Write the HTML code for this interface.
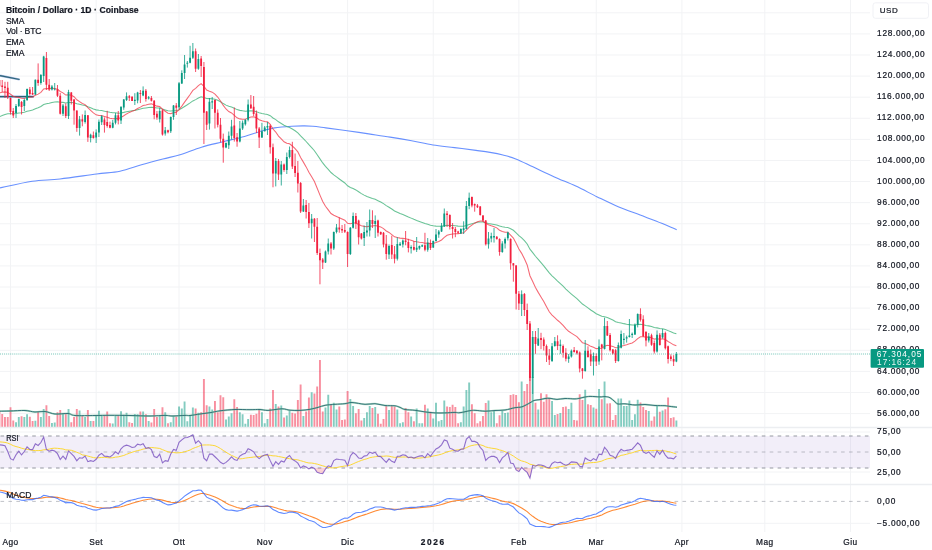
<!DOCTYPE html>
<html><head><meta charset="utf-8"><title>BTC chart</title>
<style>html,body{margin:0;padding:0;background:#fff;width:932px;height:550px;overflow:hidden}</style>
</head><body>
<svg width="932" height="550" viewBox="0 0 932 550" style="display:block"><path d="M0 12.81H870 M0 33.9H870 M0 54.99H870 M0 76.09H870 M0 97.18H870 M0 118.28H870 M0 139.37H870 M0 160.46H870 M0 181.56H870 M0 202.65H870 M0 223.75H870 M0 244.84H870 M0 265.93H870 M0 287.03H870 M0 308.12H870 M0 329.22H870 M0 350.31H870 M0 371.4H870 M0 392.5H870 M0 413.59H870 M10.5 0V532 M96.15 0V532 M179.04 0V532 M264.7 0V532 M347.59 0V532 M433.24 0V532 M518.89 0V532 M596.26 0V532 M681.91 0V532 M764.8 0V532 M850.45 0V532" stroke="#f2f3f5" stroke-width="1" fill="none"/><path d="M0 432H870M0 472H870M0 523.3H870" stroke="#f2f3f5" stroke-width="1" fill="none"/><rect x="0" y="436" width="870" height="32" fill="#7e57c2" fill-opacity="0.1"/><path d="M0 436H870M0 468H870" stroke="#9598a1" stroke-width="1" stroke-dasharray="3.6 4.33" stroke-dashoffset="7.43" fill="none"/><path d="M0 452H870" stroke="#9598a1" stroke-width="1" stroke-dasharray="3.6 4.33" stroke-dashoffset="7.43" fill="none" stroke-opacity="0.6"/><path d="M0 501.4H870" stroke="#9598a1" stroke-width="1" stroke-dasharray="3.6 4.33" stroke-dashoffset="7.43" fill="none" stroke-opacity="0.6"/><path d="M15.08 422.2h1.9V427.5h-1.9zM17.84 417.1h1.9V427.5h-1.9zM23.36 417.1h1.9V427.5h-1.9zM26.13 414.3h1.9V427.5h-1.9zM34.42 420.8h1.9V427.5h-1.9zM39.94 417.1h1.9V427.5h-1.9zM42.71 408.9h1.9V427.5h-1.9zM50.99 423h1.9V427.5h-1.9zM53.76 422.6h1.9V427.5h-1.9zM62.05 414h1.9V427.5h-1.9zM67.57 408.9h1.9V427.5h-1.9zM78.62 410.4h1.9V427.5h-1.9zM84.15 417.1h1.9V427.5h-1.9zM89.68 421h1.9V427.5h-1.9zM95.2 415.5h1.9V427.5h-1.9zM97.97 410.8h1.9V427.5h-1.9zM100.73 415.5h1.9V427.5h-1.9zM111.78 423.5h1.9V427.5h-1.9zM114.54 415.9h1.9V427.5h-1.9zM120.07 411.2h1.9V427.5h-1.9zM122.83 414.7h1.9V427.5h-1.9zM125.6 412.8h1.9V427.5h-1.9zM133.88 414h1.9V427.5h-1.9zM136.65 414.3h1.9V427.5h-1.9zM142.17 411.6h1.9V427.5h-1.9zM147.7 421h1.9V427.5h-1.9zM158.75 415.9h1.9V427.5h-1.9zM164.28 412.3h1.9V427.5h-1.9zM169.8 422.2h1.9V427.5h-1.9zM172.57 415.9h1.9V427.5h-1.9zM178.09 406.4h1.9V427.5h-1.9zM180.86 408.5h1.9V427.5h-1.9zM183.62 401.6h1.9V427.5h-1.9zM186.38 421.2h1.9V427.5h-1.9zM189.15 415.9h1.9V427.5h-1.9zM191.91 407.4h1.9V427.5h-1.9zM197.43 412.7h1.9V427.5h-1.9zM208.49 406.4h1.9V427.5h-1.9zM211.25 409.6h1.9V427.5h-1.9zM225.06 419.6h1.9V427.5h-1.9zM227.83 416.4h1.9V427.5h-1.9zM230.59 413.2h1.9V427.5h-1.9zM238.88 412.2h1.9V427.5h-1.9zM241.64 414.3h1.9V427.5h-1.9zM244.41 423.8h1.9V427.5h-1.9zM247.17 419h1.9V427.5h-1.9zM260.98 412.2h1.9V427.5h-1.9zM263.75 423.3h1.9V427.5h-1.9zM266.51 419h1.9V427.5h-1.9zM274.8 404h1.9V427.5h-1.9zM280.32 405.4h1.9V427.5h-1.9zM285.85 415.4h1.9V427.5h-1.9zM288.61 410.7h1.9V427.5h-1.9zM302.43 416.1h1.9V427.5h-1.9zM310.72 392.2h1.9V427.5h-1.9zM324.53 407.4h1.9V427.5h-1.9zM327.3 394.8h1.9V427.5h-1.9zM332.82 402.7h1.9V427.5h-1.9zM335.58 409.6h1.9V427.5h-1.9zM349.4 399h1.9V427.5h-1.9zM352.16 405.9h1.9V427.5h-1.9zM363.21 418h1.9V427.5h-1.9zM365.98 412.2h1.9V427.5h-1.9zM368.74 405.9h1.9V427.5h-1.9zM374.27 406.9h1.9V427.5h-1.9zM388.08 410.1h1.9V427.5h-1.9zM396.37 409.6h1.9V427.5h-1.9zM399.13 423.3h1.9V427.5h-1.9zM401.9 422.2h1.9V427.5h-1.9zM410.19 416.4h1.9V427.5h-1.9zM415.71 408.5h1.9V427.5h-1.9zM418.47 423.3h1.9V427.5h-1.9zM421.24 423.3h1.9V427.5h-1.9zM426.76 408.5h1.9V427.5h-1.9zM432.29 418.5h1.9V427.5h-1.9zM435.05 402.7h1.9V427.5h-1.9zM437.81 421.2h1.9V427.5h-1.9zM440.58 420.1h1.9V427.5h-1.9zM443.34 400.6h1.9V427.5h-1.9zM459.92 422.2h1.9V427.5h-1.9zM462.68 406.4h1.9V427.5h-1.9zM465.44 390h1.9V427.5h-1.9zM468.21 382.4h1.9V427.5h-1.9zM487.55 400.4h1.9V427.5h-1.9zM490.31 412.2h1.9V427.5h-1.9zM493.07 411.1h1.9V427.5h-1.9zM501.36 411h1.9V427.5h-1.9zM504.13 413.1h1.9V427.5h-1.9zM506.89 412.4h1.9V427.5h-1.9zM520.7 381.5h1.9V427.5h-1.9zM531.76 377h1.9V427.5h-1.9zM537.28 409.6h1.9V427.5h-1.9zM551.1 401.1h1.9V427.5h-1.9zM553.86 415.1h1.9V427.5h-1.9zM559.39 413h1.9V427.5h-1.9zM567.68 409h1.9V427.5h-1.9zM570.44 402.7h1.9V427.5h-1.9zM584.25 389.8h1.9V427.5h-1.9zM592.54 407.4h1.9V427.5h-1.9zM598.07 389h1.9V427.5h-1.9zM603.59 381.6h1.9V427.5h-1.9zM617.41 398.5h1.9V427.5h-1.9zM620.17 398.5h1.9V427.5h-1.9zM622.94 406.1h1.9V427.5h-1.9zM625.7 406.1h1.9V427.5h-1.9zM628.46 400.6h1.9V427.5h-1.9zM631.22 420.1h1.9V427.5h-1.9zM633.99 414.3h1.9V427.5h-1.9zM636.75 399.7h1.9V427.5h-1.9zM647.8 411.1h1.9V427.5h-1.9zM656.09 405.4h1.9V427.5h-1.9zM661.62 410.6h1.9V427.5h-1.9zM675.43 420.4h1.9V427.5h-1.9z" fill="#089981" fill-opacity="0.5"/><path d="M-1.5 412h1.9V427.5h-1.9zM1.26 414h1.9V427.5h-1.9zM4.02 417.1h1.9V427.5h-1.9zM6.79 417.1h1.9V427.5h-1.9zM9.55 407.3h1.9V427.5h-1.9zM12.31 420.6h1.9V427.5h-1.9zM20.6 416.3h1.9V427.5h-1.9zM28.89 416.7h1.9V427.5h-1.9zM31.65 421h1.9V427.5h-1.9zM37.18 412h1.9V427.5h-1.9zM45.47 405.3h1.9V427.5h-1.9zM48.23 415.9h1.9V427.5h-1.9zM56.52 412.2h1.9V427.5h-1.9zM59.28 410h1.9V427.5h-1.9zM64.81 414h1.9V427.5h-1.9zM70.34 422.2h1.9V427.5h-1.9zM73.1 417.1h1.9V427.5h-1.9zM75.86 408.9h1.9V427.5h-1.9zM81.39 415.9h1.9V427.5h-1.9zM86.91 410h1.9V427.5h-1.9zM92.44 421h1.9V427.5h-1.9zM103.49 415.5h1.9V427.5h-1.9zM106.25 411.6h1.9V427.5h-1.9zM109.02 423.3h1.9V427.5h-1.9zM117.31 415.9h1.9V427.5h-1.9zM128.36 422.2h1.9V427.5h-1.9zM131.12 423h1.9V427.5h-1.9zM139.41 411.6h1.9V427.5h-1.9zM144.94 414.3h1.9V427.5h-1.9zM150.46 422.6h1.9V427.5h-1.9zM153.23 408.9h1.9V427.5h-1.9zM155.99 417.1h1.9V427.5h-1.9zM161.52 407.3h1.9V427.5h-1.9zM167.04 423.2h1.9V427.5h-1.9zM175.33 416.4h1.9V427.5h-1.9zM194.67 408.5h1.9V427.5h-1.9zM200.2 412.2h1.9V427.5h-1.9zM202.96 379h1.9V427.5h-1.9zM205.72 405.3h1.9V427.5h-1.9zM214.01 401.1h1.9V427.5h-1.9zM216.78 412.2h1.9V427.5h-1.9zM219.54 395.3h1.9V427.5h-1.9zM222.3 397.2h1.9V427.5h-1.9zM233.35 399.3h1.9V427.5h-1.9zM236.12 406.9h1.9V427.5h-1.9zM249.93 414.8h1.9V427.5h-1.9zM252.69 415.1h1.9V427.5h-1.9zM255.46 413.8h1.9V427.5h-1.9zM258.22 409.6h1.9V427.5h-1.9zM269.27 408.5h1.9V427.5h-1.9zM272.04 390h1.9V427.5h-1.9zM277.56 406.6h1.9V427.5h-1.9zM283.09 417.4h1.9V427.5h-1.9zM291.38 412.7h1.9V427.5h-1.9zM294.14 413.4h1.9V427.5h-1.9zM296.9 400.1h1.9V427.5h-1.9zM299.67 384.5h1.9V427.5h-1.9zM305.19 411.4h1.9V427.5h-1.9zM307.95 397.5h1.9V427.5h-1.9zM313.48 393.5h1.9V427.5h-1.9zM316.24 386.6h1.9V427.5h-1.9zM319.01 360h1.9V427.5h-1.9zM321.77 411.4h1.9V427.5h-1.9zM330.06 405h1.9V427.5h-1.9zM338.35 406.4h1.9V427.5h-1.9zM341.11 420.1h1.9V427.5h-1.9zM343.87 419.6h1.9V427.5h-1.9zM346.64 391.1h1.9V427.5h-1.9zM354.93 413.2h1.9V427.5h-1.9zM357.69 409h1.9V427.5h-1.9zM360.45 420.4h1.9V427.5h-1.9zM371.5 408h1.9V427.5h-1.9zM377.03 413.8h1.9V427.5h-1.9zM379.79 423.8h1.9V427.5h-1.9zM382.56 419h1.9V427.5h-1.9zM385.32 405.9h1.9V427.5h-1.9zM390.84 405.9h1.9V427.5h-1.9zM393.61 406.4h1.9V427.5h-1.9zM404.66 408h1.9V427.5h-1.9zM407.42 412.2h1.9V427.5h-1.9zM412.95 421.2h1.9V427.5h-1.9zM424 404.8h1.9V427.5h-1.9zM429.53 411.7h1.9V427.5h-1.9zM446.1 406.4h1.9V427.5h-1.9zM448.87 406.9h1.9V427.5h-1.9zM451.63 404.8h1.9V427.5h-1.9zM454.39 406.9h1.9V427.5h-1.9zM457.16 423.3h1.9V427.5h-1.9zM470.97 404.3h1.9V427.5h-1.9zM473.73 413.2h1.9V427.5h-1.9zM476.5 423.3h1.9V427.5h-1.9zM479.26 421.2h1.9V427.5h-1.9zM482.02 416.1h1.9V427.5h-1.9zM484.79 402.9h1.9V427.5h-1.9zM495.84 423.2h1.9V427.5h-1.9zM498.6 415.3h1.9V427.5h-1.9zM509.65 395.1h1.9V427.5h-1.9zM512.42 394.3h1.9V427.5h-1.9zM515.18 395.1h1.9V427.5h-1.9zM517.94 402.2h1.9V427.5h-1.9zM523.47 391.1h1.9V427.5h-1.9zM526.23 384h1.9V427.5h-1.9zM528.99 376h1.9V427.5h-1.9zM534.52 402.8h1.9V427.5h-1.9zM540.05 393.3h1.9V427.5h-1.9zM542.81 401.8h1.9V427.5h-1.9zM545.57 394.3h1.9V427.5h-1.9zM548.33 398h1.9V427.5h-1.9zM556.62 414.1h1.9V427.5h-1.9zM562.15 407.1h1.9V427.5h-1.9zM564.91 406.4h1.9V427.5h-1.9zM573.2 420.1h1.9V427.5h-1.9zM575.96 420.4h1.9V427.5h-1.9zM578.73 394.3h1.9V427.5h-1.9zM581.49 400.1h1.9V427.5h-1.9zM587.02 404.3h1.9V427.5h-1.9zM589.78 405h1.9V427.5h-1.9zM595.31 408.8h1.9V427.5h-1.9zM600.83 399.3h1.9V427.5h-1.9zM606.36 403.6h1.9V427.5h-1.9zM609.12 403.2h1.9V427.5h-1.9zM611.88 420.1h1.9V427.5h-1.9zM614.65 415.1h1.9V427.5h-1.9zM639.51 402.5h1.9V427.5h-1.9zM642.28 406.9h1.9V427.5h-1.9zM645.04 410.1h1.9V427.5h-1.9zM650.57 420.7h1.9V427.5h-1.9zM653.33 416.4h1.9V427.5h-1.9zM658.85 411.7h1.9V427.5h-1.9zM664.38 409.2h1.9V427.5h-1.9zM667.14 397.4h1.9V427.5h-1.9zM669.91 418h1.9V427.5h-1.9zM672.67 417.3h1.9V427.5h-1.9z" fill="#f2203f" fill-opacity="0.5"/><path d="M0 411.2C1.67 411.17 5.83 411.12 10 411C14.17 410.88 20.83 410.33 25 410.5C29.17 410.67 31.67 411.83 35 412C38.33 412.17 41.67 411.17 45 411.5C48.33 411.83 51.17 413.67 55 414C58.83 414.33 64.67 413.25 68 413.5C71.33 413.75 70.5 415.17 75 415.5C79.5 415.83 89.17 415.53 95 415.5C100.83 415.47 104.17 415.3 110 415.3C115.83 415.3 123.33 415.38 130 415.5C136.67 415.62 144.17 416.02 150 416C155.83 415.98 161.33 415.4 165 415.4C168.67 415.4 168.67 416 172 416C175.33 416 182 415.48 185 415.4C188 415.32 187.5 415.73 190 415.5C192.5 415.27 196.67 414.47 200 414C203.33 413.53 206.67 413.23 210 412.7C213.33 412.17 215.83 411.33 220 410.8C224.17 410.27 230 409.68 235 409.5C240 409.32 245.83 409.7 250 409.7C254.17 409.7 257 409.38 260 409.5C263 409.62 264.33 410.52 268 410.4C271.67 410.28 278.33 408.83 282 408.8C285.67 408.77 287 409.93 290 410.2C293 410.47 296.67 410.55 300 410.4C303.33 410.25 307 409.8 310 409.3C313 408.8 315.5 408.07 318 407.4C320.5 406.73 322.17 405.82 325 405.3C327.83 404.78 331.67 404.57 335 404.3C338.33 404.03 342.17 404 345 403.7C347.83 403.4 348.67 402.4 352 402.5C355.33 402.6 361.17 404.1 365 404.3C368.83 404.5 371.67 403.5 375 403.7C378.33 403.9 381.67 405.15 385 405.5C388.33 405.85 392.5 405.48 395 405.8C397.5 406.12 398.33 406.78 400 407.4C401.67 408.02 402.5 409.02 405 409.5C407.5 409.98 411.67 409.9 415 410.3C418.33 410.7 421.67 411.47 425 411.9C428.33 412.33 431.67 412.73 435 412.9C438.33 413.07 441.67 412.98 445 412.9C448.33 412.82 452.5 412.43 455 412.4C457.5 412.37 457.5 412.98 460 412.7C462.5 412.42 467.5 411.1 470 410.7C472.5 410.3 472.5 410.22 475 410.3C477.5 410.38 481.67 411.17 485 411.2C488.33 411.23 491.67 410.7 495 410.5C498.33 410.3 501.67 410.47 505 410C508.33 409.53 512.17 408.23 515 407.7C517.83 407.17 519.5 407.62 522 406.8C524.5 405.98 528 403.85 530 402.8C532 401.75 532.33 401.03 534 400.5C535.67 399.97 538.17 399.93 540 399.6C541.83 399.27 543.33 398.72 545 398.5C546.67 398.28 548 398.15 550 398.3C552 398.45 554.5 399.37 557 399.4C559.5 399.43 562 398.58 565 398.5C568 398.42 572.5 398.95 575 398.9C577.5 398.85 578.33 398.52 580 398.2C581.67 397.88 583.33 397.3 585 397C586.67 396.7 587.5 396.42 590 396.4C592.5 396.38 597.5 396.87 600 396.9C602.5 396.93 603.33 396.47 605 396.6C606.67 396.73 608.33 396.83 610 397.7C611.67 398.57 613.67 400.75 615 401.8C616.33 402.85 616.33 403.67 618 404C619.67 404.33 622.17 403.63 625 403.8C627.83 403.97 631.67 404.88 635 405C638.33 405.12 641.67 404.42 645 404.5C648.33 404.58 651.67 405.3 655 405.5C658.33 405.7 662.5 405.55 665 405.7C667.5 405.85 668 406.15 670 406.4C672 406.65 675.83 407.07 677 407.2" fill="none" stroke="#7cc7a0" stroke-width="1.8" stroke-opacity="0.6"/><path d="M0 411.2C1.67 411.17 5.83 411.12 10 411C14.17 410.88 20.83 410.33 25 410.5C29.17 410.67 31.67 411.83 35 412C38.33 412.17 41.67 411.17 45 411.5C48.33 411.83 51.17 413.67 55 414C58.83 414.33 64.67 413.25 68 413.5C71.33 413.75 70.5 415.17 75 415.5C79.5 415.83 89.17 415.53 95 415.5C100.83 415.47 104.17 415.3 110 415.3C115.83 415.3 123.33 415.38 130 415.5C136.67 415.62 144.17 416.02 150 416C155.83 415.98 161.33 415.4 165 415.4C168.67 415.4 168.67 416 172 416C175.33 416 182 415.48 185 415.4C188 415.32 187.5 415.73 190 415.5C192.5 415.27 196.67 414.47 200 414C203.33 413.53 206.67 413.23 210 412.7C213.33 412.17 215.83 411.33 220 410.8C224.17 410.27 230 409.68 235 409.5C240 409.32 245.83 409.7 250 409.7C254.17 409.7 257 409.38 260 409.5C263 409.62 264.33 410.52 268 410.4C271.67 410.28 278.33 408.83 282 408.8C285.67 408.77 287 409.93 290 410.2C293 410.47 296.67 410.55 300 410.4C303.33 410.25 307 409.8 310 409.3C313 408.8 315.5 408.07 318 407.4C320.5 406.73 322.17 405.82 325 405.3C327.83 404.78 331.67 404.57 335 404.3C338.33 404.03 342.17 404 345 403.7C347.83 403.4 348.67 402.4 352 402.5C355.33 402.6 361.17 404.1 365 404.3C368.83 404.5 371.67 403.5 375 403.7C378.33 403.9 381.67 405.15 385 405.5C388.33 405.85 392.5 405.48 395 405.8C397.5 406.12 398.33 406.78 400 407.4C401.67 408.02 402.5 409.02 405 409.5C407.5 409.98 411.67 409.9 415 410.3C418.33 410.7 421.67 411.47 425 411.9C428.33 412.33 431.67 412.73 435 412.9C438.33 413.07 441.67 412.98 445 412.9C448.33 412.82 452.5 412.43 455 412.4C457.5 412.37 457.5 412.98 460 412.7C462.5 412.42 467.5 411.1 470 410.7C472.5 410.3 472.5 410.22 475 410.3C477.5 410.38 481.67 411.17 485 411.2C488.33 411.23 491.67 410.7 495 410.5C498.33 410.3 501.67 410.47 505 410C508.33 409.53 512.17 408.23 515 407.7C517.83 407.17 519.5 407.62 522 406.8C524.5 405.98 528 403.85 530 402.8C532 401.75 532.33 401.03 534 400.5C535.67 399.97 538.17 399.93 540 399.6C541.83 399.27 543.33 398.72 545 398.5C546.67 398.28 548 398.15 550 398.3C552 398.45 554.5 399.37 557 399.4C559.5 399.43 562 398.58 565 398.5C568 398.42 572.5 398.95 575 398.9C577.5 398.85 578.33 398.52 580 398.2C581.67 397.88 583.33 397.3 585 397C586.67 396.7 587.5 396.42 590 396.4C592.5 396.38 597.5 396.87 600 396.9C602.5 396.93 603.33 396.47 605 396.6C606.67 396.73 608.33 396.83 610 397.7C611.67 398.57 613.67 400.75 615 401.8C616.33 402.85 616.33 403.67 618 404C619.67 404.33 622.17 403.63 625 403.8C627.83 403.97 631.67 404.88 635 405C638.33 405.12 641.67 404.42 645 404.5C648.33 404.58 651.67 405.3 655 405.5C658.33 405.7 662.5 405.55 665 405.7C667.5 405.85 668 406.15 670 406.4C672 406.65 675.83 407.07 677 407.2" fill="none" stroke="#2e6e76" stroke-width="0.95"/><path d="M0 75.6L19.6 79.5" stroke="#5b86d6" stroke-width="2.2" stroke-opacity="0.6" fill="none"/><path d="M0 75.6L19.6 79.5" stroke="#2e6472" stroke-width="1.2" fill="none"/><path d="M0 96.6H33.8" stroke="#5b86d6" stroke-width="2.2" stroke-opacity="0.6" fill="none"/><path d="M0 96.6H33.8" stroke="#2e6472" stroke-width="1.1" fill="none"/><path d="M0 187.9C5.37 186.78 22.2 182.68 32.2 181.2C42.2 179.72 49.27 180.2 60 179C70.73 177.8 86.6 175.3 96.6 174C106.6 172.7 112.52 172.73 120 171.2C127.48 169.67 134.35 166.83 141.5 164.8C148.65 162.77 156.48 160.68 162.9 159C169.32 157.32 173.57 156.67 180 154.7C186.43 152.73 194.33 149.35 201.5 147.2C208.67 145.05 215.83 143.58 223 141.8C230.17 140.02 238.42 138.18 244.5 136.5C250.58 134.82 254.5 133.13 259.5 131.7C264.5 130.27 269.13 128.82 274.5 127.9C279.87 126.98 286.7 126.53 291.7 126.2C296.7 125.87 300.97 125.88 304.5 125.9C308.03 125.92 309.35 125.97 312.9 126.3C316.45 126.63 320.08 127.17 325.8 127.9C331.52 128.63 340.05 129.7 347.2 130.7C354.35 131.7 361.55 132.83 368.7 133.9C375.85 134.97 382.95 135.95 390.1 137.1C397.25 138.25 404.45 139.48 411.6 140.8C418.75 142.12 425.85 143.87 433 145C440.15 146.13 447.33 146.7 454.5 147.6C461.67 148.5 470.08 149.6 476 150.4C481.92 151.2 485.52 151.63 490 152.4C494.48 153.17 498.6 153.92 502.9 155C507.2 156.08 510.8 156.93 515.8 158.9C520.8 160.87 526.47 163.8 532.9 166.8C539.33 169.8 547.25 173.68 554.4 176.9C561.55 180.12 568.65 182.77 575.8 186.1C582.95 189.43 590.13 193.42 597.3 196.9C604.47 200.38 611.65 203.97 618.8 207C625.95 210.03 633.05 212.38 640.2 215.1C647.35 217.82 655.62 220.87 661.7 223.3C667.78 225.73 674.2 228.63 676.7 229.7" fill="none" stroke="#2962ff" stroke-width="1.1" stroke-opacity="0.7"/><polyline points="-0.55,116.76 2.21,115.6 4.97,114.52 7.74,113.84 10.5,113.77 13.26,113.84 16.03,113.53 18.79,112.96 21.55,112.73 24.31,112.23 27.08,111.32 29.84,110.64 32.6,110 35.37,108.82 38.13,107.81 40.89,106.52 43.66,104.55 46.42,103.78 49.18,103.22 51.95,102.56 54.71,102.02 57.47,101.78 60.23,102.25 63,102.38 65.76,102.91 68.52,102.49 71.29,102.42 74.05,102.73 76.81,103.72 79.58,104.33 82.34,105 85.1,105.4 87.86,106.65 90.63,107.76 93.39,108.94 96.15,109.87 98.92,110.34 101.68,110.57 104.44,111.14 107.2,111.72 109.97,112.35 112.73,112.76 115.49,112.85 118.26,113.16 121.02,112.91 123.78,112.38 126.55,111.75 129.31,111.2 132.07,110.8 134.83,110.37 137.6,109.67 140.36,109.05 143.12,108.33 145.89,107.96 148.65,107.54 151.41,107.28 154.18,107.57 156.94,107.97 159.7,108.09 162.47,109.12 165.23,109.95 167.99,110.83 170.75,111.07 173.52,110.85 176.28,110.73 179.04,109.66 181.81,108.22 184.57,106.5 187.33,104.78 190.09,102.94 192.86,100.92 195.62,99.65 198.38,98.06 201.15,96.8 203.91,97.42 206.67,98.49 209.44,98.62 212.2,98.73 214.96,99.28 217.72,100.27 220.49,101.78 223.25,103.57 226.01,105.12 228.78,106.32 231.54,107.11 234.3,108.32 237.07,109.63 239.83,110.37 242.59,110.85 245.35,111.2 248.12,110.94 250.88,110.84 253.64,110.96 256.41,111.65 259.17,112.66 261.93,113.39 264.7,113.94 267.46,114.41 270.22,115.7 272.99,117.97 275.75,119.66 278.51,121.81 281.27,123.49 284.04,125.31 286.8,126.55 289.56,127.47 292.33,129 295.09,130.72 297.85,132.8 300.62,135.88 303.38,138.61 306.14,141.48 308.9,144.69 311.67,147.6 314.43,150.7 317.19,154.71 319.96,158.85 322.72,162.92 325.48,166.39 328.25,169.42 331.01,172.52 333.77,174.85 336.53,176.92 339.3,178.98 342.06,181 344.82,183 347.59,185.78 350.35,187.43 353.11,188.55 355.88,189.91 358.64,191.77 361.4,193.6 364.16,195.11 366.93,196.5 369.69,197.42 372.45,198.46 375.22,199.35 377.98,200.66 380.74,201.98 383.5,203.64 386.27,205.62 389.03,207.2 391.79,209.06 394.56,211.01 397.32,212.31 400.08,213.54 402.85,214.59 405.61,215.67 408.37,216.94 411.13,218.12 413.9,219.35 416.66,220.47 419.42,221.47 422.19,222.41 424.95,223.48 427.71,224.23 430.48,225.16 433.24,225.78 436,226.13 438.76,226.34 441.53,226.31 444.29,225.82 447.05,225.39 449.82,225.45 452.58,225.59 455.34,225.84 458.11,226.11 460.87,226.23 463.63,226.31 466.39,225.51 469.16,224.42 471.92,223.68 474.68,222.96 477.45,222.34 480.21,222.06 482.97,222 485.74,222.87 488.5,223.48 491.26,223.97 494.02,224.45 496.79,225.02 499.55,226.07 502.31,226.75 505.08,227.23 507.84,227.44 510.6,228.84 513.37,230.28 516.13,232.76 518.89,235.54 521.65,237.84 524.42,240.67 527.18,243.94 529.94,249.2 532.71,252.64 535.47,256.22 538.23,259.45 541,262.61 543.76,265.88 546.52,269.39 549.28,272.93 552.05,275.81 554.81,278.38 557.57,281.03 560.34,283.52 563.1,286.23 565.86,289.08 568.63,291.72 571.39,294.04 574.15,296.31 576.91,298.54 579.68,301.29 582.44,304.02 585.2,305.85 587.97,307.86 590.73,309.97 593.49,311.77 596.26,313.72 599.02,315.01 601.78,316.28 604.54,316.67 607.31,317.4 610.07,318.69 612.83,320.05 615.6,321.66 618.36,322.57 621.12,323.02 623.89,323.64 626.65,324.17 629.41,324.62 632.17,324.98 634.94,324.97 637.7,324.54 640.46,324.35 643.23,324.82 645.99,325.43 648.75,325.87 651.52,326.61 654.28,327.59 657.04,327.87 659.8,328.54 662.57,328.72 665.33,329.48 668.09,330.64 670.86,331.75 673.62,332.92 676.38,333.75" fill="none" stroke="#43b47c" stroke-width="1.05" stroke-opacity="0.8"/><polyline points="-0.55,92.83 2.21,92.28 4.97,91.87 7.74,92.39 10.5,94.26 13.26,96.28 16.03,97.2 18.79,97.38 21.55,98.29 24.31,98.45 27.08,97.55 29.84,97.22 32.6,96.96 35.37,95.32 38.13,94.15 40.89,92.33 43.66,88.9 46.42,88.5 49.18,88.61 51.95,88.4 54.71,88.44 57.47,89.14 60.23,91.49 63,92.83 65.76,95.04 68.52,94.75 71.29,95.31 74.05,96.76 76.81,99.74 79.58,101.6 82.34,103.49 85.1,104.58 87.86,107.72 90.63,110.3 93.39,112.93 96.15,114.81 98.92,115.46 101.68,115.54 104.44,116.44 107.2,117.35 109.97,118.34 112.73,118.76 115.49,118.42 118.26,118.63 121.02,117.52 123.78,115.8 126.55,113.93 129.31,112.4 132.07,111.31 134.83,110.21 137.6,108.52 140.36,107.13 143.12,105.57 145.89,104.93 148.65,104.21 151.41,103.87 154.18,104.92 156.94,106.13 159.7,106.59 162.47,109.25 165.23,111.25 167.99,113.25 170.75,113.61 173.52,112.85 176.28,112.37 179.04,109.6 181.81,106.11 184.57,102.14 187.33,98.38 190.09,94.52 192.86,90.4 195.62,88.34 198.38,85.54 201.15,83.68 203.91,86.44 206.67,90.09 209.44,91.2 212.2,92.16 214.96,94.12 217.72,97.03 220.49,101 223.25,105.43 226.01,109.01 228.78,111.56 231.54,112.97 234.3,115.36 237.07,117.86 239.83,118.87 242.59,119.23 245.35,119.29 248.12,117.88 250.88,116.97 253.64,116.68 256.41,117.82 259.17,119.68 261.93,120.78 264.7,121.42 267.46,121.86 270.22,124.28 272.99,128.98 275.75,132.03 278.51,136.07 281.27,138.78 284.04,141.75 286.8,143.21 289.56,143.85 292.33,146 295.09,148.57 297.85,151.91 300.62,157.57 303.38,162.13 306.14,166.88 308.9,172.24 311.67,176.68 314.43,181.45 317.19,188.26 319.96,195.12 322.72,201.54 325.48,206.3 328.25,209.84 331.01,213.53 333.77,215.29 336.53,216.45 339.3,217.7 342.06,218.93 344.82,220.15 347.59,223.38 350.35,223.79 353.11,223.05 355.88,223.08 358.64,224.42 361.4,225.77 364.16,226.37 366.93,226.76 369.69,226.12 372.45,225.92 375.22,225.45 377.98,226.15 380.74,226.92 383.5,228.6 386.27,231.02 389.03,232.44 391.79,234.55 394.56,236.86 397.32,237.54 400.08,238.13 402.85,238.36 405.61,238.7 408.37,239.59 411.13,240.29 413.9,241.19 416.66,241.82 419.42,242.22 422.19,242.51 424.95,243.2 427.71,243.15 430.48,243.61 433.24,243.36 436,242.53 438.76,241.48 441.53,239.97 444.29,237.46 447.05,235.32 449.82,234.53 452.58,234 455.34,233.81 458.11,233.71 460.87,233.26 463.63,232.79 466.39,230.24 469.16,227.14 471.92,225.07 474.68,223.19 477.45,221.68 480.21,221.04 482.97,221 485.74,223.21 488.5,224.67 491.26,225.75 494.02,226.72 496.79,227.89 499.55,230.19 502.31,231.45 505.08,232.17 507.84,232.2 510.6,235.15 513.37,238.03 516.13,243.33 518.89,249.06 521.65,253.37 524.42,258.76 527.18,264.98 529.94,275.74 532.71,281.58 535.47,287.52 538.23,292.38 541,296.91 543.76,301.59 546.52,306.71 549.28,311.77 552.05,315.06 554.81,317.56 557.57,320.26 560.34,322.57 563.1,325.44 565.86,328.62 568.63,331.27 571.39,333.12 574.15,334.92 576.91,336.67 579.68,339.7 582.44,342.68 585.2,343.45 587.97,344.74 590.73,346.34 593.49,347.26 596.26,348.63 599.02,348.42 601.78,348.34 604.54,346.21 607.31,345.19 610.07,345.67 612.83,346.4 615.6,347.79 618.36,347.53 621.12,346.24 623.89,345.53 626.65,344.74 629.41,343.87 632.17,342.9 634.94,341.18 637.7,338.59 640.46,336.79 643.23,336.74 645.99,337.1 648.75,337.04 651.52,337.78 654.28,339.1 657.04,338.69 659.8,339.29 662.57,338.69 665.33,339.6 668.09,341.44 670.86,343.12 673.62,344.87 676.38,345.74" fill="none" stroke="#f23645" stroke-width="1.05" stroke-opacity="0.75"/><path d="M16.03 104V118 M18.79 98.6V107 M24.31 98.6V111 M27.08 88.5V101 M35.37 79.5V95 M40.89 74V84.7 M43.66 55.8V82 M51.95 85V90.5 M54.71 83V90.5 M63 104V116 M68.52 89.8V119 M79.58 116V135.6 M85.1 110.5V123.6 M90.63 133.7V142.4 M96.15 129.4V143 M98.92 119.5V137 M101.68 115.2V125 M112.73 120V128.3 M115.49 113V124.4 M121.02 106V124 M123.78 99V109.8 M126.55 92.4V101 M134.83 93.2V105 M137.6 91.8V103.3 M143.12 86.4V96.2 M148.65 96V99.5 M159.7 107.8V122.5 M165.23 127V135.6 M170.75 116.5V133 M173.52 105V119.8 M179.04 82V108.9 M181.81 70.3V84 M184.57 55V79 M187.33 61V67.6 M190.09 45.8V63.3 M192.86 43V59 M198.38 54V69.8 M209.44 98V129.6 M212.2 97V109 M226.01 142.4V148.2 M228.78 131.5V149 M231.54 119.8V139.5 M239.83 121V142.4 M242.59 120.5V130 M245.35 119.3V125.6 M248.12 99.5V121.4 M261.93 122.8V138 M264.7 126V131.5 M267.46 122V135 M275.75 158V186.4 M281.27 161V185.5 M286.8 152.5V174 M289.56 146.5V158.5 M303.38 199V212 M311.67 214V238.5 M325.48 250.5V263 M328.25 238.5V254.5 M333.77 231.5V250 M336.53 224V233.4 M350.35 227V255 M353.11 212.5V228.5 M364.16 225.5V246 M366.93 222V236.5 M369.69 209.5V236.5 M375.22 215.4V238 M389.03 244.5V259 M397.32 237.2V260.5 M400.08 242V246 M402.85 239.4V247.5 M411.13 245.3V253.5 M416.66 237V252 M419.42 245.5V249.8 M422.19 244.5V247 M427.71 238V251.7 M433.24 240.5V248 M436 229V241.6 M438.76 230V237.8 M441.53 223V232 M444.29 208.5V227 M460.87 228.3V234 M463.63 221.3V234 M466.39 201V229.5 M469.16 192.6V209.2 M488.5 232V248.6 M491.26 232.7V242.3 M494.02 228V242.6 M502.31 241.2V252.8 M505.08 237.5V248.5 M507.84 231.7V240.5 M521.65 290.4V316 M532.71 331V394 M538.23 328V346 M552.05 343V362 M554.81 337V346.7 M560.34 339.6V353.8 M568.63 354V362.8 M571.39 349.5V357.6 M585.2 340V371.7 M593.49 352.5V375.5 M599.02 339.4V364.8 M604.54 317.7V349.5 M618.36 342.5V361.6 M621.12 330.5V348.4 M623.89 333V344.5 M626.65 335.6V342.6 M629.41 319V337.5 M632.17 332.5V338 M634.94 323.5V335 M637.7 313.4V327.4 M648.75 333V342.5 M657.04 330.4V352.6 M662.57 329V338.6 M676.38 352V362.2" stroke="#089981" stroke-width="0.8" fill="none"/><path d="M-0.55 78.6V91.8 M2.21 80V92 M4.97 81.8V98 M7.74 81.8V99 M10.5 97.5V114.5 M13.26 108V118 M21.55 101V114.5 M29.84 87V95.6 M32.6 87V95 M38.13 63.4V85.8 M46.42 52V90 M49.18 79V91 M57.47 85V97 M60.23 93V114.5 M65.76 103.4V118 M71.29 92V104.5 M74.05 99V124.7 M76.81 110.5V131.8 M82.34 114.4V126.3 M87.86 115V141.9 M93.39 131.5V138.6 M104.44 117.4V132.6 M107.2 110.8V127.7 M109.97 121.7V128.3 M118.26 111V124.4 M129.31 95V101 M132.07 96.2V101 M140.36 90V103 M145.89 89V101.6 M151.41 96V101.5 M154.18 100V119.3 M156.94 111V119.8 M162.47 109.4V135.6 M167.99 129.7V133.4 M176.28 103V115 M195.62 48.5V72 M201.15 56V77 M203.91 62V144 M206.67 111V130 M214.96 99.6V128.5 M217.72 109.4V127.4 M220.49 118V142.4 M223.25 133.6V162.7 M234.3 107.5V141.6 M237.07 133V146.7 M250.88 95V109 M253.64 96V116 M256.41 110.5V133 M259.17 127V148 M270.22 124.5V153.6 M272.99 143.6V187.3 M278.51 159V180 M284.04 163.5V171.8 M292.33 141.8V169 M295.09 153.5V177 M297.85 161V192.5 M300.62 182V213 M306.14 200V218.5 M308.9 203V228 M314.43 218V242 M317.19 218V255 M319.96 248.6V284.3 M322.72 258V269 M331.01 242V254.5 M339.3 217.4V232.7 M342.06 225V233 M344.82 224V233 M347.59 231.4V267 M355.88 213V229 M358.64 219.7V244.5 M361.4 233V239.5 M372.45 210.3V228 M377.98 219.7V236.5 M380.74 231.5V235 M383.5 232V247.4 M386.27 235V259.7 M391.79 235.7V259 M394.56 246V263.4 M405.61 231V245.3 M408.37 238.8V252.4 M413.9 241V250.5 M424.95 232.8V251.3 M430.48 239.5V250 M447.05 211V227 M449.82 214.3V229.5 M452.58 223V238.5 M455.34 227V237.2 M458.11 230.8V234 M471.92 196.5V207.3 M474.68 203.5V211.7 M477.45 204V208 M480.21 206V215.6 M482.97 215V222 M485.74 220V245.5 M496.79 236V239.7 M499.55 238.3V255.7 M510.6 238.3V269.7 M513.37 263V281.7 M516.13 265V309.5 M518.89 291V310 M524.42 293V316 M527.18 303.6V330 M529.94 321V381 M535.47 331V353.8 M541 332.8V349.2 M543.76 337.4V350.5 M546.52 344.5V362 M549.28 349V365 M557.57 335.3V350 M563.1 344.5V357.6 M565.86 348.2V361.4 M574.15 347V352.6 M576.91 350V354.5 M579.68 351.4V372.4 M582.44 368V378.7 M587.97 346.3V357.7 M590.73 349.5V366 M596.26 353.4V366 M601.78 343.8V360.4 M607.31 321V336 M610.07 333V351.5 M612.83 349V354.6 M615.6 349V363 M640.46 308.3V321.6 M643.23 315.3V337 M645.99 331V346.4 M651.52 333.7V345.8 M654.28 340.5V353.5 M659.8 333V345.6 M665.33 331.6V349.5 M668.09 345.6V363.5 M670.86 354.4V361.2 M673.62 355.2V366" stroke="#f2203f" stroke-width="0.8" fill="none"/><path d="M15.13 106h1.8V113h-1.8zM17.89 99h1.8V106h-1.8zM23.41 100h1.8V106h-1.8zM26.18 89h1.8V100h-1.8zM34.47 79.8h1.8V94.5h-1.8zM39.99 75h1.8V83h-1.8zM42.76 56.4h1.8V76h-1.8zM51.05 86.4h1.8V89.6h-1.8zM53.81 88.8h1.8V89.6h-1.8zM62.1 105.6h1.8V113.8h-1.8zM67.62 92h1.8V116h-1.8zM78.67 119.3h1.8V128h-1.8zM84.2 115h1.8V122h-1.8zM89.73 134.8h1.8V138h-1.8zM95.25 132.6h1.8V137.5h-1.8zM98.02 121.7h1.8V132.6h-1.8zM100.78 116.3h1.8V122.3h-1.8zM111.83 122.8h1.8V127.7h-1.8zM114.59 115.2h1.8V122.8h-1.8zM120.12 107h1.8V120.6h-1.8zM122.88 99.4h1.8V107.6h-1.8zM125.65 96.2h1.8V100h-1.8zM133.93 99.8h1.8V100.9h-1.8zM136.7 92.4h1.8V100.5h-1.8zM142.22 90.7h1.8V95.6h-1.8zM147.75 97.3h1.8V98.6h-1.8zM158.8 111h1.8V119.3h-1.8zM164.33 130.2h1.8V133.4h-1.8zM169.85 117h1.8V131.3h-1.8zM172.62 105.6h1.8V117h-1.8zM178.14 83.3h1.8V107.3h-1.8zM180.91 73h1.8V83.4h-1.8zM183.67 64.4h1.8V73h-1.8zM186.43 62.7h1.8V63.8h-1.8zM189.19 57.8h1.8V62.7h-1.8zM191.96 51.3h1.8V57.8h-1.8zM197.48 59h1.8V68.7h-1.8zM208.54 101.8h1.8V123.6h-1.8zM211.3 101.3h1.8V102.4h-1.8zM225.11 143h1.8V147.5h-1.8zM227.88 135.8h1.8V145.3h-1.8zM230.64 126.4h1.8V135.8h-1.8zM238.93 128.5h1.8V141.6h-1.8zM241.69 122.7h1.8V128.5h-1.8zM244.45 119.8h1.8V124.2h-1.8zM247.22 104.5h1.8V119.8h-1.8zM261.03 131.2h1.8V137.4h-1.8zM263.8 127.5h1.8V131.2h-1.8zM266.56 126h1.8V127.5h-1.8zM274.85 161h1.8V173.6h-1.8zM280.37 164.5h1.8V174.5h-1.8zM285.9 157h1.8V170h-1.8zM288.66 150h1.8V157h-1.8zM302.48 205.4h1.8V211.4h-1.8zM310.77 218.8h1.8V223.2h-1.8zM324.58 251.5h1.8V262.5h-1.8zM327.35 243.5h1.8V251.5h-1.8zM332.87 232h1.8V248.6h-1.8zM335.63 227.5h1.8V232h-1.8zM349.45 227.7h1.8V254h-1.8zM352.21 216h1.8V227.7h-1.8zM363.26 232h1.8V238h-1.8zM366.03 230.5h1.8V232.5h-1.8zM368.79 220h1.8V230.5h-1.8zM374.32 221h1.8V224h-1.8zM388.13 246h1.8V254.6h-1.8zM396.42 244h1.8V258.8h-1.8zM399.18 243.7h1.8V245.3h-1.8zM401.95 240.5h1.8V244.5h-1.8zM410.24 247h1.8V248.6h-1.8zM415.76 247.8h1.8V249.8h-1.8zM418.52 246h1.8V248.6h-1.8zM421.29 245.3h1.8V246.4h-1.8zM426.81 242.7h1.8V249.8h-1.8zM432.34 241h1.8V247.6h-1.8zM435.1 234.6h1.8V241h-1.8zM437.87 231.5h1.8V234.6h-1.8zM440.63 225.7h1.8V231.5h-1.8zM443.39 213.6h1.8V226.4h-1.8zM459.97 229h1.8V233.4h-1.8zM462.73 228.3h1.8V230.2h-1.8zM465.5 206h1.8V229h-1.8zM468.26 197.7h1.8V206h-1.8zM487.6 238.5h1.8V244.2h-1.8zM490.36 236h1.8V238.5h-1.8zM493.12 236h1.8V237.5h-1.8zM501.41 243.4h1.8V252h-1.8zM504.18 239h1.8V243.4h-1.8zM506.94 232.5h1.8V238.3h-1.8zM520.75 294.3h1.8V304h-1.8zM531.81 337h1.8V378h-1.8zM537.33 338.5h1.8V345.6h-1.8zM551.15 346.3h1.8V361h-1.8zM553.91 341.3h1.8V346h-1.8zM559.44 344.5h1.8V346h-1.8zM567.73 356.5h1.8V359h-1.8zM570.49 350.7h1.8V356.5h-1.8zM584.3 350.7h1.8V371h-1.8zM592.59 356h1.8V361.6h-1.8zM598.12 346.4h1.8V361.6h-1.8zM603.64 326h1.8V349h-1.8zM617.46 345h1.8V361h-1.8zM620.22 334h1.8V347.7h-1.8zM622.99 338.8h1.8V340h-1.8zM625.75 337.2h1.8V338.5h-1.8zM628.51 335.6h1.8V337h-1.8zM631.27 333.7h1.8V335h-1.8zM634.04 324.8h1.8V334.4h-1.8zM636.8 314h1.8V324.8h-1.8zM647.85 336.5h1.8V340.5h-1.8zM656.14 334.8h1.8V351.6h-1.8zM661.67 333h1.8V337.4h-1.8zM675.48 354h1.8V361.5h-1.8z" fill="#089981"/><path d="M-1.45 80h1.8V86.5h-1.8zM1.31 85.5h1.8V87h-1.8zM4.07 86.5h1.8V88h-1.8zM6.84 87.7h1.8V97.3h-1.8zM9.6 98h1.8V112h-1.8zM12.36 111h1.8V115.5h-1.8zM20.65 102h1.8V107h-1.8zM28.94 89.6h1.8V94h-1.8zM31.7 92.9h1.8V94.5h-1.8zM37.23 79.8h1.8V83h-1.8zM45.52 58h1.8V84.7h-1.8zM48.28 84.7h1.8V89.6h-1.8zM56.57 89.3h1.8V95.8h-1.8zM59.33 95.8h1.8V113.8h-1.8zM64.86 106.2h1.8V116h-1.8zM70.39 92.5h1.8V100.7h-1.8zM73.15 99.6h1.8V110.5h-1.8zM75.91 110.5h1.8V128h-1.8zM81.44 119.3h1.8V121.4h-1.8zM86.96 115.2h1.8V137.5h-1.8zM92.49 135.3h1.8V138h-1.8zM103.54 119.5h1.8V125h-1.8zM106.3 122h1.8V126h-1.8zM109.07 125h1.8V127.7h-1.8zM117.36 115.2h1.8V120.6h-1.8zM128.41 96.2h1.8V97.8h-1.8zM131.17 96.7h1.8V101h-1.8zM139.46 92.9h1.8V94h-1.8zM144.99 90.7h1.8V98.9h-1.8zM150.51 98h1.8V100.7h-1.8zM153.28 100.7h1.8V114.9h-1.8zM156.04 113.8h1.8V117.6h-1.8zM161.56 110.5h1.8V134.5h-1.8zM167.09 130.2h1.8V132.3h-1.8zM175.38 105.6h1.8V107.8h-1.8zM194.72 51.3h1.8V68.7h-1.8zM200.25 58.4h1.8V66h-1.8zM203.01 67h1.8V112.7h-1.8zM205.77 111.6h1.8V124.7h-1.8zM214.06 100h1.8V112.7h-1.8zM216.82 112.7h1.8V124.7h-1.8zM219.59 124.7h1.8V138.7h-1.8zM222.35 138.7h1.8V147.5h-1.8zM233.4 125.6h1.8V138h-1.8zM236.17 137.3h1.8V141.6h-1.8zM249.98 104.5h1.8V108.3h-1.8zM252.74 106.8h1.8V114h-1.8zM255.51 113.4h1.8V128.6h-1.8zM258.27 128.6h1.8V137.4h-1.8zM269.32 125.7h1.8V147.3h-1.8zM272.09 147.3h1.8V173.6h-1.8zM277.61 161h1.8V174.5h-1.8zM283.14 164.5h1.8V170h-1.8zM291.43 150h1.8V166.4h-1.8zM294.19 166h1.8V173h-1.8zM296.95 172.7h1.8V183.6h-1.8zM299.72 183h1.8V211.4h-1.8zM305.24 205h1.8V212h-1.8zM308 212h1.8V223.2h-1.8zM313.53 218.8h1.8V226.8h-1.8zM316.29 226.8h1.8V253h-1.8zM319.06 253h1.8V260.3h-1.8zM321.82 259.5h1.8V262.5h-1.8zM330.11 243.5h1.8V248.6h-1.8zM338.4 227.5h1.8V229.5h-1.8zM341.16 229h1.8V230.6h-1.8zM343.92 230h1.8V231.8h-1.8zM346.69 232h1.8V254h-1.8zM354.98 216h1.8V223.4h-1.8zM357.74 220.5h1.8V237.2h-1.8zM360.5 233.5h1.8V238.6h-1.8zM371.55 220h1.8V224h-1.8zM377.08 220.5h1.8V232.8h-1.8zM379.84 232h1.8V234.3h-1.8zM382.61 232.8h1.8V244.5h-1.8zM385.37 243.7h1.8V254h-1.8zM390.89 245h1.8V254.6h-1.8zM393.66 254.3h1.8V258.8h-1.8zM404.71 240.4h1.8V242h-1.8zM407.47 242h1.8V248h-1.8zM413 247h1.8V249.7h-1.8zM424.05 245.3h1.8V249.7h-1.8zM429.58 243h1.8V248h-1.8zM446.15 213.6h1.8V215h-1.8zM448.92 215h1.8V227h-1.8zM451.68 227h1.8V229h-1.8zM454.44 229h1.8V232h-1.8zM457.21 231.5h1.8V232.7h-1.8zM471.02 197h1.8V205.4h-1.8zM473.78 204h1.8V205.4h-1.8zM476.55 205.4h1.8V207.3h-1.8zM479.31 206.6h1.8V215h-1.8zM482.07 215.5h1.8V220.6h-1.8zM484.84 220.6h1.8V244.2h-1.8zM495.89 236.8h1.8V239h-1.8zM498.65 239h1.8V252h-1.8zM509.7 239h1.8V263.2h-1.8zM512.47 263.2h1.8V265.4h-1.8zM515.23 265.4h1.8V293.7h-1.8zM517.99 293.7h1.8V303.5h-1.8zM523.52 294h1.8V310h-1.8zM526.28 310h1.8V324h-1.8zM529.04 323.6h1.8V378h-1.8zM534.57 337h1.8V344h-1.8zM540.1 338h1.8V340h-1.8zM542.86 339.6h1.8V346h-1.8zM545.62 346h1.8V355.4h-1.8zM548.38 355.4h1.8V359.8h-1.8zM556.67 341.3h1.8V346h-1.8zM562.2 346h1.8V352.7h-1.8zM564.96 352.8h1.8V358.8h-1.8zM573.25 350h1.8V352h-1.8zM576.01 350.7h1.8V353.3h-1.8zM578.78 352.6h1.8V368.5h-1.8zM581.54 368.5h1.8V371h-1.8zM587.07 350.7h1.8V357h-1.8zM589.83 354.3h1.8V361.6h-1.8zM595.36 356h1.8V361.6h-1.8zM600.88 344.5h1.8V347.6h-1.8zM606.41 326h1.8V335.5h-1.8zM609.17 335h1.8V350.2h-1.8zM611.93 349.5h1.8V353.4h-1.8zM614.7 350.2h1.8V361h-1.8zM639.56 314h1.8V319.7h-1.8zM642.33 319.3h1.8V336.3h-1.8zM645.09 332h1.8V340.5h-1.8zM650.62 335.3h1.8V344.8h-1.8zM653.38 343h1.8V351.6h-1.8zM658.9 334.8h1.8V345h-1.8zM664.43 333h1.8V348.2h-1.8zM667.19 346.3h1.8V359h-1.8zM669.96 356.5h1.8V359h-1.8zM672.72 359h1.8V361.5h-1.8z" fill="#f2203f"/><path d="M0 354H870" stroke="#089981" stroke-width="1" stroke-dasharray="1.02 1.02" stroke-opacity="0.55" fill="none"/><defs><clipPath id="os"><rect x="0" y="468" width="870" height="16"/></clipPath><clipPath id="ob"><rect x="0" y="428" width="870" height="8"/></clipPath></defs><polygon points="-0.55,444.79 2.21,445.11 4.97,445.78 7.74,451.57 10.5,458.69 13.26,460.12 16.03,454.73 18.79,451.24 21.55,454.97 24.31,451.56 27.08,446.88 29.84,449.35 32.6,449.6 35.37,443.72 38.13,445.43 40.89,442.52 43.66,437.06 46.42,449.51 49.18,451.23 51.95,450.15 54.71,451.06 57.47,453.7 60.23,459.49 63,456.21 65.76,459.3 68.52,450.95 71.29,453.6 74.05,456.38 76.81,460.74 79.58,457.74 82.34,458.28 85.1,456.01 87.86,461.65 90.63,460.67 93.39,461.44 96.15,459.31 98.92,455.27 101.68,453.38 104.44,456.1 107.2,456.41 109.97,456.96 112.73,454.89 115.49,451.83 118.26,453.91 121.02,448.74 123.78,446.21 126.55,445.17 129.31,445.92 132.07,447.46 134.83,446.99 137.6,444.14 140.36,445.03 143.12,443.72 145.89,448.36 148.65,447.64 151.41,449.56 154.18,456.47 156.94,457.62 159.7,454.05 162.47,462.81 165.23,460.6 167.99,461.31 170.75,453.94 173.52,449.45 176.28,450.38 179.04,442.43 181.81,439.82 184.57,437.83 187.33,437.45 190.09,436.31 192.86,434.86 195.62,443.26 198.38,440.72 201.15,443.76 203.91,458.17 206.67,460.75 209.44,454.14 212.2,454.01 214.96,456.76 217.72,459.43 220.49,462.26 223.25,463.92 226.01,462.37 228.78,459.92 231.54,456.85 234.3,459.61 237.07,460.44 239.83,456.03 242.59,454.19 245.35,453.27 248.12,448.7 250.88,449.95 253.64,451.81 256.41,456.2 259.17,458.57 261.93,456.34 264.7,455.02 267.46,454.47 270.22,460.63 272.99,466.25 275.75,461.66 278.51,464.36 281.27,460.89 284.04,462.06 286.8,457.67 289.56,455.46 292.33,459.44 295.09,460.9 297.85,463.15 300.62,468.04 303.38,465.92 306.14,467.04 308.9,468.86 311.67,467.16 314.43,468.53 317.19,472.36 319.96,473.28 322.72,473.56 325.48,468.98 328.25,465.84 331.01,466.79 333.77,460.59 336.53,459.04 339.3,459.53 342.06,459.82 344.82,460.15 347.59,465.57 350.35,456.02 353.11,452.55 355.88,454.56 358.64,458.03 361.4,458.37 364.16,456.12 366.93,455.61 369.69,452.07 372.45,453.35 375.22,452.3 377.98,456.16 380.74,456.63 383.5,459.73 386.27,462.33 389.03,458.9 391.79,461.32 394.56,462.46 397.32,456.23 400.08,456.12 402.85,454.79 405.61,455.35 408.37,457.56 411.13,457.07 413.9,458.12 416.66,457.09 419.42,456.09 422.19,455.68 424.95,457.82 427.71,453.62 430.48,456.29 433.24,452.3 436,449.02 438.76,447.51 441.53,444.81 444.29,440.03 447.05,440.96 449.82,448.17 452.58,449.26 455.34,450.9 458.11,451.29 460.87,449.26 463.63,448.88 466.39,439.17 469.16,436.58 471.92,441.4 474.68,441.4 477.45,442.63 480.21,447.37 482.97,450.48 485.74,460.48 488.5,457.62 491.26,456.39 494.02,456.39 496.79,457.68 499.55,462.65 502.31,457.91 505.08,455.66 507.84,452.5 510.6,463.13 513.37,463.72 516.13,469.93 518.89,471.6 521.65,467.36 524.42,470.21 527.18,472.39 529.94,478.14 532.71,465.35 535.47,466.26 538.23,464.73 541,464.95 543.76,465.88 546.52,467.31 549.28,467.97 552.05,463.42 554.81,461.8 557.57,462.73 560.34,462.2 563.1,463.93 565.86,465.18 568.63,464.24 571.39,461.84 574.15,462.17 576.91,462.52 579.68,466.3 582.44,466.87 585.2,457.94 587.97,459.7 590.73,460.96 593.49,458.58 596.26,460.24 599.02,454.12 601.78,454.52 604.54,447.23 607.31,450.6 610.07,455.2 612.83,456.14 615.6,458.33 618.36,452.69 621.12,449.33 623.89,450.93 626.65,450.41 629.41,449.87 632.17,449.2 634.94,446.16 637.7,442.87 640.46,445.42 643.23,451.95 645.99,453.43 648.75,451.92 651.52,454.93 654.28,457.24 657.04,450.82 659.8,454.31 662.57,450.2 665.33,455.09 668.09,458.13 670.86,458.13 673.62,458.86 676.38,455.8 676.38,468 -0.55,468" fill="#f23645" fill-opacity="0.22" clip-path="url(#os)"/><polygon points="-0.55,444.79 2.21,445.11 4.97,445.78 7.74,451.57 10.5,458.69 13.26,460.12 16.03,454.73 18.79,451.24 21.55,454.97 24.31,451.56 27.08,446.88 29.84,449.35 32.6,449.6 35.37,443.72 38.13,445.43 40.89,442.52 43.66,437.06 46.42,449.51 49.18,451.23 51.95,450.15 54.71,451.06 57.47,453.7 60.23,459.49 63,456.21 65.76,459.3 68.52,450.95 71.29,453.6 74.05,456.38 76.81,460.74 79.58,457.74 82.34,458.28 85.1,456.01 87.86,461.65 90.63,460.67 93.39,461.44 96.15,459.31 98.92,455.27 101.68,453.38 104.44,456.1 107.2,456.41 109.97,456.96 112.73,454.89 115.49,451.83 118.26,453.91 121.02,448.74 123.78,446.21 126.55,445.17 129.31,445.92 132.07,447.46 134.83,446.99 137.6,444.14 140.36,445.03 143.12,443.72 145.89,448.36 148.65,447.64 151.41,449.56 154.18,456.47 156.94,457.62 159.7,454.05 162.47,462.81 165.23,460.6 167.99,461.31 170.75,453.94 173.52,449.45 176.28,450.38 179.04,442.43 181.81,439.82 184.57,437.83 187.33,437.45 190.09,436.31 192.86,434.86 195.62,443.26 198.38,440.72 201.15,443.76 203.91,458.17 206.67,460.75 209.44,454.14 212.2,454.01 214.96,456.76 217.72,459.43 220.49,462.26 223.25,463.92 226.01,462.37 228.78,459.92 231.54,456.85 234.3,459.61 237.07,460.44 239.83,456.03 242.59,454.19 245.35,453.27 248.12,448.7 250.88,449.95 253.64,451.81 256.41,456.2 259.17,458.57 261.93,456.34 264.7,455.02 267.46,454.47 270.22,460.63 272.99,466.25 275.75,461.66 278.51,464.36 281.27,460.89 284.04,462.06 286.8,457.67 289.56,455.46 292.33,459.44 295.09,460.9 297.85,463.15 300.62,468.04 303.38,465.92 306.14,467.04 308.9,468.86 311.67,467.16 314.43,468.53 317.19,472.36 319.96,473.28 322.72,473.56 325.48,468.98 328.25,465.84 331.01,466.79 333.77,460.59 336.53,459.04 339.3,459.53 342.06,459.82 344.82,460.15 347.59,465.57 350.35,456.02 353.11,452.55 355.88,454.56 358.64,458.03 361.4,458.37 364.16,456.12 366.93,455.61 369.69,452.07 372.45,453.35 375.22,452.3 377.98,456.16 380.74,456.63 383.5,459.73 386.27,462.33 389.03,458.9 391.79,461.32 394.56,462.46 397.32,456.23 400.08,456.12 402.85,454.79 405.61,455.35 408.37,457.56 411.13,457.07 413.9,458.12 416.66,457.09 419.42,456.09 422.19,455.68 424.95,457.82 427.71,453.62 430.48,456.29 433.24,452.3 436,449.02 438.76,447.51 441.53,444.81 444.29,440.03 447.05,440.96 449.82,448.17 452.58,449.26 455.34,450.9 458.11,451.29 460.87,449.26 463.63,448.88 466.39,439.17 469.16,436.58 471.92,441.4 474.68,441.4 477.45,442.63 480.21,447.37 482.97,450.48 485.74,460.48 488.5,457.62 491.26,456.39 494.02,456.39 496.79,457.68 499.55,462.65 502.31,457.91 505.08,455.66 507.84,452.5 510.6,463.13 513.37,463.72 516.13,469.93 518.89,471.6 521.65,467.36 524.42,470.21 527.18,472.39 529.94,478.14 532.71,465.35 535.47,466.26 538.23,464.73 541,464.95 543.76,465.88 546.52,467.31 549.28,467.97 552.05,463.42 554.81,461.8 557.57,462.73 560.34,462.2 563.1,463.93 565.86,465.18 568.63,464.24 571.39,461.84 574.15,462.17 576.91,462.52 579.68,466.3 582.44,466.87 585.2,457.94 587.97,459.7 590.73,460.96 593.49,458.58 596.26,460.24 599.02,454.12 601.78,454.52 604.54,447.23 607.31,450.6 610.07,455.2 612.83,456.14 615.6,458.33 618.36,452.69 621.12,449.33 623.89,450.93 626.65,450.41 629.41,449.87 632.17,449.2 634.94,446.16 637.7,442.87 640.46,445.42 643.23,451.95 645.99,453.43 648.75,451.92 651.52,454.93 654.28,457.24 657.04,450.82 659.8,454.31 662.57,450.2 665.33,455.09 668.09,458.13 670.86,458.13 673.62,458.86 676.38,455.8 676.38,436 -0.55,436" fill="#089981" fill-opacity="0.22" clip-path="url(#ob)"/><polyline points="-0.55,441.83 2.21,442.08 4.97,442.38 7.74,443.09 10.5,444.31 13.26,445.63 16.03,446.57 18.79,447.26 21.55,448.21 24.31,448.93 27.08,449.3 29.84,449.86 32.6,450.43 35.37,450.58 38.13,450.63 40.89,450.44 43.66,449.82 46.42,449.67 49.18,449.14 51.95,448.43 54.71,448.16 57.47,448.34 60.23,448.66 63,448.99 65.76,449.88 68.52,450 71.29,450.28 74.05,451.19 76.81,452.28 79.58,453.37 82.34,454.88 85.1,455.35 87.86,456.09 90.63,456.84 93.39,457.58 96.15,457.98 98.92,457.68 101.68,457.48 104.44,457.25 107.2,457.64 109.97,457.88 112.73,457.78 115.49,457.14 118.26,456.87 121.02,456.18 123.78,455.48 126.55,454.31 129.31,453.25 132.07,452.26 134.83,451.38 137.6,450.58 140.36,449.98 143.12,449.1 145.89,448.52 148.65,447.86 151.41,447.48 154.18,447.81 156.94,448.07 159.7,448.45 162.47,449.64 165.23,450.74 167.99,451.84 170.75,452.3 173.52,452.48 176.28,452.92 179.04,452.74 181.81,452.46 184.57,451.71 187.33,450.98 190.09,450.03 192.86,448.49 195.62,447.46 198.38,446.51 201.15,445.15 203.91,444.98 206.67,444.94 209.44,444.95 212.2,445.28 214.96,445.73 217.72,446.95 220.49,448.55 223.25,450.41 226.01,452.2 228.78,453.88 231.54,455.45 234.3,456.62 237.07,458.03 239.83,458.9 242.59,458.62 245.35,458.09 248.12,457.7 250.88,457.41 253.64,457.05 256.41,456.82 259.17,456.56 261.93,456.02 264.7,455.49 267.46,455.1 270.22,455.37 272.99,455.85 275.75,455.93 278.51,456.53 281.27,457.01 284.04,457.64 286.8,458.28 289.56,458.67 292.33,459.21 295.09,459.55 297.85,459.88 300.62,460.71 303.38,461.49 306.14,462.39 308.9,462.98 311.67,463.04 314.43,463.53 317.19,464.11 319.96,464.99 322.72,465.81 325.48,466.62 328.25,467.36 331.01,467.89 333.77,467.86 336.53,467.57 339.3,466.96 342.06,466.53 344.82,466.03 347.59,465.8 350.35,465 353.11,463.86 355.88,462.59 358.64,461.5 361.4,460.42 364.16,459.5 366.93,458.77 369.69,457.72 372.45,457.2 375.22,456.72 377.98,456.48 380.74,456.25 383.5,456.22 386.27,455.99 389.03,456.19 391.79,456.82 394.56,457.38 397.32,457.26 400.08,457.1 402.85,457 405.61,456.98 408.37,457.37 411.13,457.64 413.9,458.05 416.66,458.12 419.42,458.08 422.19,457.79 424.95,457.47 427.71,457.09 430.48,456.73 433.24,456.01 436,455.49 438.76,454.88 441.53,454.17 444.29,453.07 447.05,451.89 449.82,451.25 452.58,450.62 455.34,450.18 458.11,449.83 460.87,449.37 463.63,448.74 466.39,447.7 469.16,446.3 471.92,445.52 474.68,444.97 477.45,444.63 480.21,444.81 482.97,445.55 485.74,446.95 488.5,447.62 491.26,448.13 494.02,448.52 496.79,448.98 499.55,449.94 502.31,450.58 505.08,451.76 507.84,452.9 510.6,454.45 513.37,456.04 516.13,457.99 518.89,459.72 521.65,460.93 524.42,461.63 527.18,462.68 529.94,464.23 532.71,464.87 535.47,465.49 538.23,465.64 541,466.14 543.76,466.87 546.52,467.93 549.28,468.27 552.05,468.25 554.81,467.67 557.57,467.04 560.34,466.67 563.1,466.22 565.86,465.7 568.63,464.71 571.39,464.46 574.15,464.17 576.91,464.01 579.68,464.1 582.44,464.18 585.2,463.51 587.97,462.92 590.73,462.74 593.49,462.51 596.26,462.33 599.02,461.76 601.78,461.08 604.54,459.8 607.31,458.83 610.07,458.35 612.83,457.92 615.6,457.62 618.36,456.65 621.12,455.4 623.89,454.9 626.65,454.23 629.41,453.44 632.17,452.77 634.94,451.77 637.7,450.96 640.46,450.31 643.23,450.65 645.99,450.85 648.75,450.62 651.52,450.53 654.28,450.45 657.04,450.32 659.8,450.68 662.57,450.62 665.33,450.96 668.09,451.55 670.86,452.19 673.62,453.09 676.38,454.02" fill="none" stroke="#fdd835" stroke-width="1"/><polyline points="-0.55,444.79 2.21,445.11 4.97,445.78 7.74,451.57 10.5,458.69 13.26,460.12 16.03,454.73 18.79,451.24 21.55,454.97 24.31,451.56 27.08,446.88 29.84,449.35 32.6,449.6 35.37,443.72 38.13,445.43 40.89,442.52 43.66,437.06 46.42,449.51 49.18,451.23 51.95,450.15 54.71,451.06 57.47,453.7 60.23,459.49 63,456.21 65.76,459.3 68.52,450.95 71.29,453.6 74.05,456.38 76.81,460.74 79.58,457.74 82.34,458.28 85.1,456.01 87.86,461.65 90.63,460.67 93.39,461.44 96.15,459.31 98.92,455.27 101.68,453.38 104.44,456.1 107.2,456.41 109.97,456.96 112.73,454.89 115.49,451.83 118.26,453.91 121.02,448.74 123.78,446.21 126.55,445.17 129.31,445.92 132.07,447.46 134.83,446.99 137.6,444.14 140.36,445.03 143.12,443.72 145.89,448.36 148.65,447.64 151.41,449.56 154.18,456.47 156.94,457.62 159.7,454.05 162.47,462.81 165.23,460.6 167.99,461.31 170.75,453.94 173.52,449.45 176.28,450.38 179.04,442.43 181.81,439.82 184.57,437.83 187.33,437.45 190.09,436.31 192.86,434.86 195.62,443.26 198.38,440.72 201.15,443.76 203.91,458.17 206.67,460.75 209.44,454.14 212.2,454.01 214.96,456.76 217.72,459.43 220.49,462.26 223.25,463.92 226.01,462.37 228.78,459.92 231.54,456.85 234.3,459.61 237.07,460.44 239.83,456.03 242.59,454.19 245.35,453.27 248.12,448.7 250.88,449.95 253.64,451.81 256.41,456.2 259.17,458.57 261.93,456.34 264.7,455.02 267.46,454.47 270.22,460.63 272.99,466.25 275.75,461.66 278.51,464.36 281.27,460.89 284.04,462.06 286.8,457.67 289.56,455.46 292.33,459.44 295.09,460.9 297.85,463.15 300.62,468.04 303.38,465.92 306.14,467.04 308.9,468.86 311.67,467.16 314.43,468.53 317.19,472.36 319.96,473.28 322.72,473.56 325.48,468.98 328.25,465.84 331.01,466.79 333.77,460.59 336.53,459.04 339.3,459.53 342.06,459.82 344.82,460.15 347.59,465.57 350.35,456.02 353.11,452.55 355.88,454.56 358.64,458.03 361.4,458.37 364.16,456.12 366.93,455.61 369.69,452.07 372.45,453.35 375.22,452.3 377.98,456.16 380.74,456.63 383.5,459.73 386.27,462.33 389.03,458.9 391.79,461.32 394.56,462.46 397.32,456.23 400.08,456.12 402.85,454.79 405.61,455.35 408.37,457.56 411.13,457.07 413.9,458.12 416.66,457.09 419.42,456.09 422.19,455.68 424.95,457.82 427.71,453.62 430.48,456.29 433.24,452.3 436,449.02 438.76,447.51 441.53,444.81 444.29,440.03 447.05,440.96 449.82,448.17 452.58,449.26 455.34,450.9 458.11,451.29 460.87,449.26 463.63,448.88 466.39,439.17 469.16,436.58 471.92,441.4 474.68,441.4 477.45,442.63 480.21,447.37 482.97,450.48 485.74,460.48 488.5,457.62 491.26,456.39 494.02,456.39 496.79,457.68 499.55,462.65 502.31,457.91 505.08,455.66 507.84,452.5 510.6,463.13 513.37,463.72 516.13,469.93 518.89,471.6 521.65,467.36 524.42,470.21 527.18,472.39 529.94,478.14 532.71,465.35 535.47,466.26 538.23,464.73 541,464.95 543.76,465.88 546.52,467.31 549.28,467.97 552.05,463.42 554.81,461.8 557.57,462.73 560.34,462.2 563.1,463.93 565.86,465.18 568.63,464.24 571.39,461.84 574.15,462.17 576.91,462.52 579.68,466.3 582.44,466.87 585.2,457.94 587.97,459.7 590.73,460.96 593.49,458.58 596.26,460.24 599.02,454.12 601.78,454.52 604.54,447.23 607.31,450.6 610.07,455.2 612.83,456.14 615.6,458.33 618.36,452.69 621.12,449.33 623.89,450.93 626.65,450.41 629.41,449.87 632.17,449.2 634.94,446.16 637.7,442.87 640.46,445.42 643.23,451.95 645.99,453.43 648.75,451.92 651.52,454.93 654.28,457.24 657.04,450.82 659.8,454.31 662.57,450.2 665.33,455.09 668.09,458.13 670.86,458.13 673.62,458.86 676.38,455.8" fill="none" stroke="#7e57c2" stroke-width="1.1" stroke-opacity="0.85"/><polyline points="-0.55,490.17 2.21,490.64 4.97,491.16 7.74,491.82 10.5,492.76 13.26,493.89 16.03,494.96 18.79,495.88 21.55,496.76 24.31,497.49 27.08,497.95 29.84,498.29 32.6,498.55 35.37,498.57 38.13,498.47 40.89,498.21 43.66,497.62 46.42,497.24 49.18,497.08 51.95,497.05 54.71,497.13 57.47,497.38 60.23,497.97 63,498.65 65.76,499.49 68.52,500.07 71.29,500.58 74.05,501.15 76.81,501.96 79.58,502.76 82.34,503.54 85.1,504.17 87.86,504.97 90.63,505.79 93.39,506.62 96.15,507.32 98.92,507.74 101.68,507.89 104.44,507.95 107.2,507.95 109.97,507.93 112.73,507.81 115.49,507.52 118.26,507.2 121.02,506.68 123.78,505.95 126.55,505.07 129.31,504.16 132.07,503.31 134.83,502.53 137.6,501.73 140.36,500.98 143.12,500.25 145.89,499.69 148.65,499.25 151.41,498.96 154.18,498.96 156.94,499.2 159.7,499.49 162.47,500.11 165.23,500.85 167.99,501.66 170.75,502.26 173.52,502.55 176.28,502.65 179.04,502.31 181.81,501.56 184.57,500.48 187.33,499.23 190.09,497.88 192.86,496.46 195.62,495.32 198.38,494.28 201.15,493.49 203.91,493.52 206.67,494.25 209.44,495.09 212.2,495.96 214.96,496.97 217.72,498.18 220.49,499.65 223.25,501.33 226.01,502.99 228.78,504.45 231.54,505.58 234.3,506.58 237.07,507.49 239.83,508.11 242.59,508.42 245.35,508.46 248.12,508.11 250.88,507.58 253.64,507.01 256.41,506.64 259.17,506.51 261.93,506.46 264.7,506.38 267.46,506.27 270.22,506.41 272.99,507.04 275.75,507.77 278.51,508.68 281.27,509.51 284.04,510.31 286.8,510.84 289.56,511.07 292.33,511.29 295.09,511.55 297.85,511.96 300.62,512.77 303.38,513.69 306.14,514.7 308.9,515.81 311.67,516.85 314.43,517.86 317.19,519.11 319.96,520.49 322.72,521.88 325.48,523.01 328.25,523.75 331.01,524.23 333.77,524.25 336.53,523.87 339.3,523.23 342.06,522.43 344.82,521.54 347.59,520.88 350.35,520.02 353.11,518.87 355.88,517.66 358.64,516.62 361.4,515.73 364.16,514.86 366.93,514 369.69,513.01 372.45,512.03 375.22,511.04 377.98,510.23 380.74,509.57 383.5,509.17 386.27,509.05 389.03,508.99 391.79,509.07 394.56,509.27 397.32,509.32 400.08,509.26 402.85,509.06 405.61,508.79 408.37,508.56 411.13,508.33 413.9,508.13 416.66,507.93 419.42,507.69 422.19,507.42 424.95,507.19 427.71,506.89 430.48,506.62 433.24,506.27 436,505.81 438.76,505.24 441.53,504.54 444.29,503.64 447.05,502.67 449.82,501.87 452.58,501.23 455.34,500.78 458.11,500.47 460.87,500.22 463.63,500.02 466.39,499.57 469.16,498.87 471.92,498.16 474.68,497.5 477.45,496.93 480.21,496.56 482.97,496.42 485.74,496.76 488.5,497.32 491.26,497.95 494.02,498.62 496.79,499.31 499.55,500.16 502.31,500.96 505.08,501.62 507.84,502.07 510.6,502.78 513.37,503.63 516.13,504.91 518.89,506.51 521.65,508.08 524.42,509.76 527.18,511.58 529.94,514.09 532.71,516.32 535.47,518.32 538.23,519.97 541,521.27 543.76,522.34 546.52,523.27 549.28,524.08 552.05,524.54 554.81,524.64 557.57,524.52 560.34,524.18 563.1,523.8 565.86,523.43 568.63,523.01 571.39,522.45 574.15,521.8 576.91,521.11 579.68,520.58 582.44,520.16 585.2,519.53 587.97,518.84 590.73,518.18 593.49,517.44 596.26,516.74 599.02,515.86 601.78,514.9 604.54,513.62 607.31,512.31 610.07,511.21 612.83,510.33 615.6,509.71 618.36,509.05 621.12,508.24 623.89,507.43 626.65,506.62 629.41,505.83 632.17,505.04 634.94,504.19 637.7,503.17 640.46,502.19 643.23,501.5 645.99,501.07 648.75,500.79 651.52,500.73 654.28,500.89 657.04,500.97 659.8,501.12 662.57,501.16 665.33,501.33 668.09,501.7 670.86,502.2 673.62,502.77 676.38,503.25" fill="none" stroke="#ff6d00" stroke-width="1.1" stroke-opacity="0.8"/><polyline points="-0.55,491.85 2.21,492.52 4.97,493.22 7.74,494.47 10.5,496.51 13.26,498.4 16.03,499.28 18.79,499.53 21.55,500.28 24.31,500.41 27.08,499.79 29.84,499.66 32.6,499.61 35.37,498.61 38.13,498.08 40.89,497.16 43.66,495.25 46.42,495.71 49.18,496.47 51.95,496.9 54.71,497.45 57.47,498.39 60.23,500.36 63,501.37 65.76,502.85 68.52,502.4 71.29,502.61 74.05,503.42 76.81,505.19 79.58,505.96 82.34,506.65 85.1,506.7 87.86,508.18 90.63,509.08 93.39,509.92 96.15,510.11 98.92,509.44 101.68,508.46 104.44,508.19 107.2,507.97 109.97,507.84 112.73,507.34 115.49,506.37 118.26,505.91 121.02,504.6 123.78,503.02 126.55,501.56 129.31,500.52 132.07,499.93 134.83,499.4 137.6,498.52 140.36,497.96 143.12,497.35 145.89,497.46 148.65,497.49 151.41,497.78 154.18,498.99 156.94,500.15 159.7,500.63 162.47,502.58 165.23,503.81 167.99,504.89 170.75,504.67 173.52,503.71 176.28,503.07 179.04,500.92 181.81,498.56 184.57,496.17 187.33,494.24 190.09,492.49 192.86,490.78 195.62,490.72 198.38,490.16 201.15,490.3 203.91,493.66 206.67,497.17 209.44,498.44 212.2,499.44 214.96,501.01 217.72,503.04 220.49,505.54 223.25,508.04 226.01,509.62 228.78,510.29 231.54,510.09 234.3,510.6 237.07,511.14 239.83,510.57 242.59,509.64 245.35,508.63 248.12,506.73 250.88,505.43 253.64,504.75 256.41,505.15 259.17,506.01 261.93,506.22 264.7,506.08 267.46,505.81 270.22,506.98 272.99,509.57 275.75,510.68 278.51,512.33 281.27,512.84 284.04,513.47 286.8,512.97 289.56,511.97 292.33,512.17 295.09,512.63 297.85,513.58 300.62,516.03 303.38,517.38 306.14,518.7 308.9,520.28 311.67,521.01 314.43,521.89 317.19,524.09 319.96,526.04 322.72,527.44 325.48,527.5 328.25,526.72 331.01,526.16 333.77,524.34 336.53,522.34 339.3,520.68 342.06,519.23 344.82,517.97 347.59,518.27 350.35,516.56 353.11,514.27 355.88,512.82 358.64,512.48 361.4,512.18 364.16,511.38 366.93,510.53 369.69,509.07 372.45,508.11 375.22,507.07 377.98,506.99 380.74,506.95 383.5,507.54 386.27,508.57 389.03,508.75 391.79,509.39 394.56,510.08 397.32,509.53 400.08,508.99 402.85,508.27 405.61,507.72 408.37,507.62 411.13,507.41 413.9,507.35 416.66,507.11 419.42,506.74 422.19,506.34 424.95,506.26 427.71,505.68 430.48,505.53 433.24,504.9 436,503.94 438.76,502.95 441.53,501.77 444.29,500.04 447.05,498.79 449.82,498.64 452.58,498.69 455.34,498.96 458.11,499.24 460.87,499.24 463.63,499.22 466.39,497.75 469.16,496.08 471.92,495.34 474.68,494.84 477.45,494.64 480.21,495.08 482.97,495.87 485.74,498.12 488.5,499.54 491.26,500.51 494.02,501.28 496.79,502.08 499.55,503.57 502.31,504.14 505.08,504.26 507.84,503.89 510.6,505.61 513.37,507.06 516.13,510.02 518.89,512.88 521.65,514.39 524.42,516.46 527.18,518.85 529.94,524.12 532.71,525.25 535.47,526.34 538.23,526.54 541,526.51 543.76,526.6 546.52,527.01 549.28,527.33 552.05,526.39 554.81,525.03 557.57,524.01 560.34,522.86 563.1,522.25 565.86,521.95 568.63,521.32 571.39,520.22 574.15,519.22 576.91,518.33 579.68,518.45 582.44,518.51 585.2,517.02 587.97,516.09 590.73,515.5 593.49,514.5 596.26,513.94 599.02,512.35 601.78,511.06 604.54,508.5 607.31,507.05 610.07,506.82 612.83,506.8 615.6,507.22 618.36,506.42 621.12,505.01 623.89,504.18 626.65,503.39 629.41,502.64 632.17,501.92 634.94,500.75 637.7,499.12 640.46,498.26 643.23,498.72 645.99,499.39 648.75,499.67 651.52,500.46 654.28,501.55 657.04,501.28 659.8,501.75 662.57,501.31 665.33,501.98 668.09,503.22 670.86,504.17 673.62,505.05 676.38,505.2" fill="none" stroke="#2962ff" stroke-width="1.1" stroke-opacity="0.75"/><path d="M0 427.6H932M0 484.4H932" stroke="#eceef1" stroke-width="1.5" fill="none"/><g style="font-family:'Liberation Sans',sans-serif;font-size:8.6px" fill="#131722" stroke="#131722" stroke-width="0.22"><text x="5.9" y="12.9" font-weight="bold" textLength="132.6" lengthAdjust="spacing">Bitcoin / Dollaro · 1D · Coinbase</text><text x="5.9" y="23.7">SMA</text><text x="5.9" y="34.3" textLength="35.6" lengthAdjust="spacing">Vol · BTC</text><text x="5.9" y="44.9">EMA</text><text x="5.9" y="55.5">EMA</text><text x="6.2" y="441" textLength="12.3" lengthAdjust="spacingAndGlyphs">RSI</text><text x="6.2" y="498" textLength="25.3" lengthAdjust="spacingAndGlyphs">MACD</text></g><g style="font-family:'Liberation Sans',sans-serif;font-size:8.3px;letter-spacing:0.68px" fill="#131722" stroke="#131722" stroke-width="0.22"><text x="877.1" y="36">128.000,00</text><text x="877.1" y="57.09">124.000,00</text><text x="877.1" y="78.19">120.000,00</text><text x="877.1" y="99.28">116.000,00</text><text x="877.1" y="120.38">112.000,00</text><text x="877.1" y="141.47">108.000,00</text><text x="877.1" y="162.56">104.000,00</text><text x="877.1" y="183.66">100.000,00</text><text x="877.1" y="204.75">96.000,00</text><text x="877.1" y="225.85">92.000,00</text><text x="877.1" y="246.94">88.000,00</text><text x="877.1" y="268.03">84.000,00</text><text x="877.1" y="289.13">80.000,00</text><text x="877.1" y="310.22">76.000,00</text><text x="877.1" y="331.32">72.000,00</text><text x="877.1" y="352.41">68.000,00</text><text x="877.1" y="373.5">64.000,00</text><text x="877.1" y="394.6">60.000,00</text><text x="877.1" y="415.69">56.000,00</text><text x="877.1" y="434.15">75,00</text><text x="877.1" y="454.65">50,00</text><text x="877.1" y="474.65">25,00</text><text x="877.1" y="503.95">0,00</text><text x="877.1" y="526.05">−5.000,00</text></g><rect x="873" y="2.8" width="55.5" height="15.5" rx="2.5" fill="#fff" stroke="#eceef2" stroke-width="0.8"/><text x="879.8" y="12.9" style="font-family:'Liberation Sans',sans-serif;font-size:8px;letter-spacing:0.55px" fill="#131722" stroke="#131722" stroke-width="0.22">USD</text><rect x="870.6" y="349.1" width="53.4" height="18.6" rx="1" fill="#089981"/><text x="876.8" y="356.8" style="font-family:'Liberation Sans',sans-serif;font-size:8.3px;letter-spacing:0.95px" fill="#fff">67.304,05</text><text x="877.1" y="365" style="font-family:'Liberation Sans',sans-serif;font-size:8.3px;letter-spacing:0.95px" fill="#fff" fill-opacity="0.9">17:16:24</text><g style="font-family:'Liberation Sans',sans-serif;font-size:8.3px;letter-spacing:0.45px" fill="#131722" stroke="#131722" stroke-width="0.22" text-anchor="middle"><text x="10.5" y="545">Ago</text><text x="96.15" y="545">Set</text><text x="179.04" y="545">Ott</text><text x="264.7" y="545">Nov</text><text x="347.59" y="545">Dic</text><text x="518.89" y="545">Feb</text><text x="596.26" y="545">Mar</text><text x="681.91" y="545">Apr</text><text x="764.8" y="545">Mag</text><text x="850.45" y="545">Giu</text><text x="433.24" y="545" font-weight="bold" style="letter-spacing:1.6px">2026</text></g></svg>
</body></html>
